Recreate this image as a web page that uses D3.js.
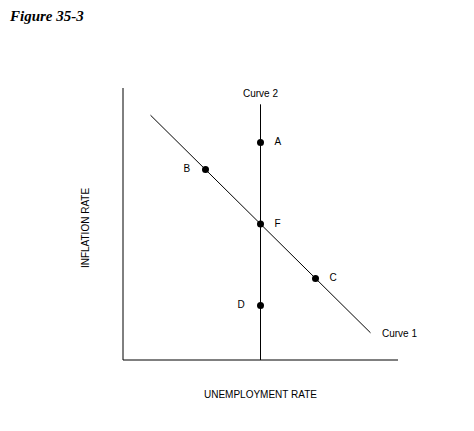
<!DOCTYPE html>
<html><head><meta charset="utf-8">
<script src="https://cdn.jsdelivr.net/npm/d3@7"></script>
<style>body{margin:0;background:#fff}</style></head>
<body><svg id="c" width="474" height="431"></svg>
<script>
const points = [
  {name:"A", x:5, y:8, dx:14, dy:0},
  {name:"B", x:3, y:7, dx:-22, dy:0},
  {name:"F", x:5, y:5, dx:14, dy:0},
  {name:"C", x:7, y:3, dx:14, dy:0},
  {name:"D", x:5, y:2, dx:-23, dy:0}
];
const curve1 = [{x:1,y:9},{x:9,y:1}];
const curve2 = [{x:5,y:9.4},{x:5,y:0}];
const svg = d3.select("#c");
const x = d3.scaleLinear().domain([0,10]).range([123,398]);
const y = d3.scaleLinear().domain([0,10]).range([360,88]);
svg.append("text").attr("x",10).attr("y",21).attr("font-family","Liberation Serif")
  .attr("font-weight","bold").attr("font-style","italic").attr("font-size",15).text("Figure 35-3");
svg.append("line").attr("x1",x(0)).attr("x2",x(0)).attr("y1",y(10)).attr("y2",y(0)).attr("stroke","#000");
svg.append("line").attr("x1",x(0)).attr("x2",x(10)).attr("y1",y(0)).attr("y2",y(0)).attr("stroke","#000");
const ln = d3.line().x(d=>x(d.x)).y(d=>y(d.y));
svg.append("path").attr("d",ln(curve1)).attr("stroke","#000").attr("fill","none");
svg.append("path").attr("d",ln(curve2)).attr("stroke","#000").attr("fill","none");
svg.selectAll("circle").data(points).join("circle").attr("cx",d=>x(d.x)).attr("cy",d=>y(d.y)).attr("r",3.5).attr("fill","#000");
svg.selectAll("text.p").data(points).join("text").attr("class","p").attr("x",d=>x(d.x)+d.dx).attr("y",d=>y(d.y)+d.dy)
  .attr("font-family","Liberation Sans").attr("font-size",10).attr("dominant-baseline","middle").text(d=>d.name);
const t = (s,px,py,anchor,rot)=>{const e=svg.append("text").attr("font-family","Liberation Sans").attr("font-size",10)
  .attr("text-anchor",anchor).text(s); if(rot) e.attr("transform",`translate(${px},${py}) rotate(-90)`); else e.attr("x",px).attr("y",py);};
t("Curve 2", x(5), 97, "middle");
t("Curve 1", 382, 337, "start");
t("UNEMPLOYMENT RATE", x(5), 398, "middle");
t("INFLATION RATE", 89, 228, "middle", true);
</script></body></html>
